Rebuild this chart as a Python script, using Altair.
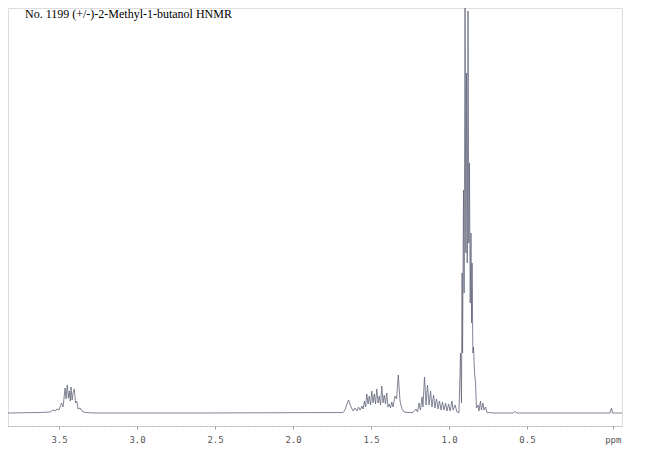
import altair as alt
import pandas as pd

TITLE = "No. 1199 (+/-)-2-Methyl-1-butanol HNMR"

# chemical shift (ppm) and intensity
ppm = [3.827, 3.622, 3.557, 3.538, 3.525, 3.513, 3.500, 3.484, 3.474, 3.461, 3.455,
       3.447, 3.440, 3.434, 3.428, 3.423, 3.416, 3.410, 3.402, 3.394, 3.386, 3.378,
       3.365, 3.352, 3.333, 3.269, 2.596,
       1.679, 1.667, 1.654, 1.644, 1.628, 1.615, 1.602, 1.590, 1.580, 1.570, 1.558,
       1.551, 1.542, 1.535, 1.527, 1.519, 1.511, 1.503, 1.495, 1.487, 1.479, 1.471,
       1.463, 1.455, 1.447, 1.439, 1.431, 1.423, 1.415, 1.407, 1.399, 1.391, 1.383,
       1.375, 1.367, 1.359, 1.346, 1.336, 1.325, 1.314, 1.301, 1.288, 1.263, 1.231,
       1.211, 1.202, 1.192, 1.183, 1.173, 1.167, 1.157, 1.147, 1.138, 1.128, 1.118,
       1.109, 1.099, 1.090, 1.080, 1.070, 1.061, 1.051, 1.042, 1.032, 1.022, 1.013,
       1.003, 0.993, 0.981, 0.974, 0.961, 0.949, 0.936, 0.926, 0.920, 0.916, 0.913,
       0.907, 0.903, 0.897, 0.892, 0.888, 0.883, 0.878, 0.873, 0.869, 0.864, 0.859,
       0.855, 0.852, 0.847, 0.843, 0.836, 0.830, 0.824, 0.814,
       0.808, 0.798, 0.792, 0.782, 0.776, 0.766, 0.756, 0.705, 0.590, 0.577, 0.564,
       -0.032, -0.042, -0.048, -0.109]
intensity = [0, 0.5, 1, 3, 2, 4, 3, 10, 6, 25, 14,
             28, 15, 22, 12, 26, 13, 20, 24, 10, 12, 4,
             5, 2, 0.5, 0, 0,
             0.5, 3, 9, 13, 6, 2, 5, 2, 6, 3, 7,
             4, 12, 6, 19, 9, 17, 8, 22, 10, 19, 9,
             24, 10, 17, 8, 27, 10, 18, 9, 20, 6, 9,
             5, 11, 6, 17, 14, 38, 12, 4, 1, 0.5, 0.5,
             4, 1, 10, 3, 16, 6, 36, 8, 28, 8, 22,
             6, 18, 5, 14, 4, 12, 3, 11, 3, 10, 2,
             9, 2, 12, 3, 8, 1, 0.5, 60, 10, 140, 60,
             223, 120, 405, 160, 340, 150, 402, 170, 250, 110, 180,
             90, 150, 60, 66, 40, 30, 5, 8,
             2, 12, 3, 10, 3, 6, 0.5, 0, 0, 1.5, 0,
             0, 5, 0, 0]

tick_values = [3.5, 3.0, 2.5, 2.0, 1.5, 1.0, 0.5, -0.05]

spec = pd.DataFrame({"ppm": ppm, "intensity": intensity})

line = alt.Chart(spec).mark_line(color="#62667a", strokeWidth=0.8, clip=True).encode(
    x=alt.X("ppm:Q",
            scale=alt.Scale(domain=[3.827, -0.109], nice=False, zero=False),
            axis=alt.Axis(values=tick_values, title=None, grid=False,
                          labelExpr="datum.value < 0 ? 'ppm' : format(datum.value, '.1f')",
                          labelFont="DejaVu Sans Mono", labelFontSize=9,
                          labelColor="#555555", labelPadding=6,
                          tickSize=3, tickColor="#999999",
                          domainColor="#9a9a9a", domainDash=[1, 2],
                          domainWidth=1)),
    y=alt.Y("intensity:Q", scale=alt.Scale(domain=[-13, 405], nice=False, zero=False),
            axis=None),
)

title = alt.Chart(pd.DataFrame({"t": [TITLE]})).mark_text(
    font="Liberation Serif", fontSize=12, align="left", baseline="middle", color="#000000"
).encode(x=alt.value(17), y=alt.value(6), text="t:N")

chart = alt.layer(line, title).properties(
    width=614, height=418,
    autosize=alt.AutoSizeParams(type="none"),
    padding={"left": 0, "top": 0, "right": 20, "bottom": 35},
).configure_view(stroke=None).configure(background="white")

chart.save("out.html", embed_options={"renderer": "svg", "actions": False})
